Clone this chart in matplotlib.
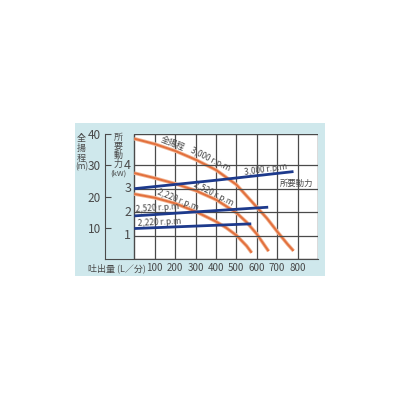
# Pump performance chart: head (m) and power (kW) vs discharge (L/min)

import matplotlib.pyplot as plt
from matplotlib.patches import Rectangle

plt.rcParams['font.family'] = ['Liberation Sans Narrow', 'Noto Sans CJK JP', 'DejaVu Sans']

# Head curves (m)
q_3000 = [0, 100, 200, 300, 400, 500, 600, 650, 700, 750, 780]
h_3000 = [38.5, 36.8, 34.6, 31.8, 28.5, 23.8, 16.6, 13.0, 8.8, 4.8, 2.6]

q_2520 = [0, 100, 200, 300, 400, 500, 550, 600, 640, 658]
h_2520 = [27.5, 25.9, 24.1, 21.9, 19.0, 14.8, 11.8, 8.0, 4.2, 2.5]

q_2220 = [0, 100, 200, 300, 400, 450, 500, 550, 575]
h_2220 = [20.8, 19.6, 17.8, 15.2, 12.0, 10.0, 7.6, 4.2, 2.0]

# Power curves (kW)
pq_3000 = [0, 400, 780]
p_3000 = [3.0, 3.36, 3.73]
pq_2520 = [0, 656]
p_2520 = [1.84, 2.21]
pq_2220 = [0, 573]
p_2220 = [1.30, 1.50]

head_ticks = [10, 20, 30, 40]
kw_ticks = [1, 2, 3, 4]
q_ticks = [100, 200, 300, 400, 500, 600, 700, 800]

head_title = ['全', '揚', '程']
power_title = ['所', '要', '動', '力']

orange = '#e2703d'
blue = '#1d3a8c'
grid_c = '#4a4a4a'
text_c = '#4a4a4a'
jp = ['Noto Sans CJK JP', 'DejaVu Sans']

fig = plt.figure(figsize=(4, 4), dpi=100)

# light blue panel behind the chart
bg = fig.add_axes([0.1875, 0.31, 0.625, 0.3825])
bg.set_facecolor('#cfe8ec')
bg.set_xticks([])
bg.set_yticks([])
for s in bg.spines.values():
    s.set_visible(False)

ax = fig.add_axes([0.2625, 0.3525, 0.5325, 0.3125])
ax.set_facecolor('none')
ax.set_xlim(-143.5, 900)
ax.set_ylim(0, 40)
ax2 = ax.twinx()
ax2.set_ylim(0, 40 / 7.5)

# white grid area
ax.add_patch(Rectangle((0, 0), 900, 40, facecolor='white', edgecolor=grid_c, lw=1.0, zorder=1))
ax.vlines(range(100, 900, 100), 0, 40, colors=grid_c, lw=0.9, zorder=2)
ax2.hlines(kw_ticks, 0, 900, colors=grid_c, lw=0.9, zorder=2)

# curves
for q, h in [(q_3000, h_3000), (q_2520, h_2520), (q_2220, h_2220)]:
    ax.plot(q, h, color='#f3b695', lw=2.6, zorder=3, solid_capstyle='butt')
    ax.plot(q, h, color=orange, lw=1.4, zorder=4, solid_capstyle='butt')
for q, p in [(pq_3000, p_3000), (pq_2520, p_2520), (pq_2220, p_2220)]:
    ax2.plot(q, p, color=blue, lw=2.0, zorder=5, solid_capstyle='butt')

# axes styling
for s in ['top', 'right']:
    ax.spines[s].set_visible(False)
for s in ax2.spines.values():
    s.set_visible(False)
ax.spines['left'].set_color(grid_c)
ax.spines['bottom'].set_color(grid_c)
ax.set_yticks(head_ticks)
ax.set_yticklabels([str(t) for t in head_ticks])
ax.tick_params(axis='y', direction='in', length=4, color=grid_c, labelsize=8.5,
               labelcolor=text_c, pad=3)
ax.set_xticks(q_ticks)
ax.set_xticklabels([str(t) for t in q_ticks])
ax.tick_params(axis='x', length=0, labelsize=7, labelcolor=text_c, pad=3)
ax2.set_yticks([])

for k in kw_ticks:
    ax2.text(-15, k, str(k), ha='right', va='center', fontsize=9, color=text_c)

# axis titles, stacked vertically one character per line
for i, ch in enumerate(head_title):
    fig.text(0.204, 0.655 - i * 0.025, ch, ha='center', va='center', fontsize=6.5,
             color=text_c, family=jp)
fig.text(0.204, 0.583, '(m)', ha='center', va='center', fontsize=6, color=text_c)
for i, ch in enumerate(power_title):
    fig.text(0.295, 0.657 - i * 0.0225, ch, ha='center', va='center', fontsize=6.5,
             color=text_c, family=jp)
fig.text(0.297, 0.567, '(kW)', ha='center', va='center', fontsize=5.5, color=text_c)
ax.text(55, -0.075, '吐出量 (L／分)', transform=ax.get_xaxis_transform(), ha='right',
        va='center', fontsize=6.5, color=text_c, family=jp)

# curve labels
lab = dict(fontsize=6, color=text_c, ha='center', va='center', zorder=6)
ax.text(190, 36.9, '全揚程', rotation=-22, family=jp, **lab)
ax.text(372, 31.8, '3,000 r.p.m', rotation=-26, **lab)
ax.text(386, 21.0, '2,520 r.p.m', rotation=-27, **lab)
ax.text(212, 18.8, '2,220 r.p.m', rotation=-22, **lab)
ax.text(111, 16.2, '2,520 r.p.m', rotation=4, **lab)
ax.text(123, 11.8, '2,220 r.p.m', rotation=3, **lab)
ax.text(644, 28.7, '3,000 r.p.m', rotation=8, **lab)
ax.text(795, 24.3, '所要動力', family=jp, **lab)

fig.savefig('out.png', dpi=100)
